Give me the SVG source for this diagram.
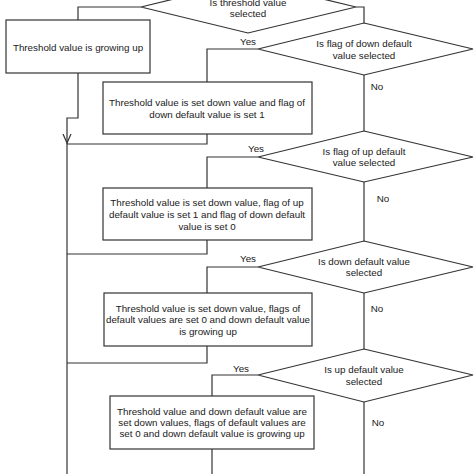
<svg xmlns="http://www.w3.org/2000/svg" width="474" height="474" viewBox="0 0 474 474">
<defs>
<style>
.s{fill:#fff;stroke:#333;stroke-width:1.2}
.c{fill:none;stroke:#333;stroke-width:1.2}
text{font-family:"Liberation Sans",Arial,sans-serif;font-size:9.8px;fill:#1a1a1a;text-anchor:middle}
</style>
<marker id="ar" viewBox="0 0 10 10" refX="9" refY="5" markerWidth="10" markerHeight="10" orient="auto" markerUnits="userSpaceOnUse">
<path d="M0,1 L9,5 L0,9" fill="none" stroke="#333" stroke-width="1.2"/>
</marker>
</defs>
<rect width="474" height="474" fill="#fff"/>
<g id="connectors">
<path class="c" d="M141,7 H78 V20"/>
<path class="c" d="M356,7 H364 V23"/>
<path class="c" d="M78,73 V118 H67 V143" marker-end="url(#ar)"/>
<path class="c" d="M67,143 V474"/>
<path class="c" d="M258,49 H207 V82"/>
<path class="c" d="M207,134 V144 H67"/>
<path class="c" d="M364,75 V131"/>
<path class="c" d="M258,157 H207 V188"/>
<path class="c" d="M207,240 V254 H67"/>
<path class="c" d="M364,182 V241"/>
<path class="c" d="M258,267 H207 V293"/>
<path class="c" d="M207,346 V363 H67"/>
<path class="c" d="M364,293 V349"/>
<path class="c" d="M258,375 H212 V396"/>
<path class="c" d="M212,449 V474"/>
<path class="c" d="M364,402 V474"/>
<text x="248" y="45">Yes</text>
<text x="256" y="152">Yes</text>
<text x="248" y="262">Yes</text>
<text x="241" y="372">Yes</text>
<text x="377" y="90">No</text>
<text x="383" y="202">No</text>
<text x="377" y="312">No</text>
<text x="378" y="426">No</text>
</g>
<g id="d1">
<polygon class="s" points="248,-19 356,7 248,33 141,7"/>
<text x="248" y="6">Is threshold value</text>
<text x="248" y="17">selected</text>
</g>
<g id="b1">
<rect class="s" x="6" y="20" width="144" height="53"/>
<text x="78" y="51">Threshold value is growing up</text>
</g>
<g id="d2">
<polygon class="s" points="364,23 473,49 364,75 258,49"/>
<text x="364" y="47">Is flag of down default</text>
<text x="364" y="59">value selected</text>
</g>
<g id="b2">
<rect class="s" x="103" y="82" width="209" height="52"/>
<text x="207" y="106">Threshold value is set down value and flag of</text>
<text x="207" y="118">down default value is set 1</text>
</g>
<g id="d3">
<polygon class="s" points="364,131 473,157 364,182 258,157"/>
<text x="364" y="155">Is flag of up default</text>
<text x="364" y="166">value selected</text>
</g>
<g id="b3">
<rect class="s" x="103" y="188" width="209" height="52"/>
<text x="207" y="206">Threshold value is set down value, flag of up</text>
<text x="207" y="218">default value is set 1 and flag of down default</text>
<text x="207" y="230">value is set 0</text>
</g>
<g id="d4">
<polygon class="s" points="364,241 473,267 364,293 258,267"/>
<text x="364" y="265">Is down default value</text>
<text x="364" y="276">selected</text>
</g>
<g id="b4">
<rect class="s" x="104" y="293" width="208" height="53"/>
<text x="208" y="312">Threshold value is set down value, flags of</text>
<text x="208" y="323" textLength="204" lengthAdjust="spacingAndGlyphs">default values are set 0 and down default value</text>
<text x="208" y="335">is growing up</text>
</g>
<g id="d5">
<polygon class="s" points="364,349 473,375 364,402 258,375"/>
<text x="364" y="373">Is up default value</text>
<text x="364" y="385">selected</text>
</g>
<g id="b5">
<rect class="s" x="110" y="396" width="204" height="53"/>
<text x="212" y="415">Threshold value and down default value are</text>
<text x="212" y="426">set down values, flags of default values are</text>
<text x="212" y="437">set 0 and down default value is growing up</text>
</g>
</svg>
